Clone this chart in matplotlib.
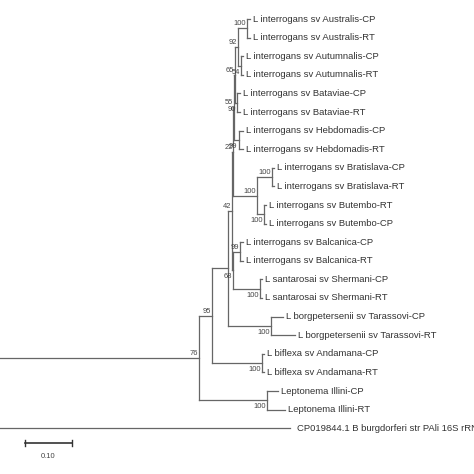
import matplotlib
matplotlib.use("Agg")
import matplotlib.pyplot as plt

# node table: name, parent, branch length, support
names = ["root","N76","Borrelia","N95","Lept","LeptCP","LeptRT","N42","Anda","AndaCP","AndaRT",
         "Tara","TaraCP","TaraRT","Nx","N68","Balc","BalcCP","BalcRT","Sher","SherCP","SherRT",
         "N22","BB","Brat","BratCP","BratRT","Bute","ButeRT","ButeCP","N55","Hebd","HebdCP","HebdRT",
         "N65","Bata","BataCP","BataRT","N92","Aust","AustCP","AustRT","Autu","AutuCP","AutuRT"]
parents = [None,"root","root","N76","N76","Lept","Lept","N95","N95","Anda","Anda",
           "N42","Tara","Tara","N42","Nx","N68","Balc","Balc","N68","Sher","Sher",
           "Nx","N22","BB","Brat","Brat","BB","Bute","Bute","N22","N55","Hebd","Hebd",
           "N55","N65","Bata","Bata","N65","N92","Aust","Aust","N92","Autu","Autu"]
branch_lengths = [0,0.430,0.623,0.028,0.145,0.023,0.038,0.034,0.106,0.004,0.004,
                  0.091,0.026,0.051,0.009,0.002,0.015,0.006,0.006,0.057,0.004,0.004,
                  0.002,0.051,0.032,0.004,0.004,0.015,0.004,0.004,0.002,0.009,0.009,0.009,
                  0.002,0.004,0.006,0.006,0.006,0.019,0.006,0.006,0.006,0.004,0.004]
supports = {"N76":"76","N95":"95","Lept":"100","Anda":"100","Tara":"100","Nx":"42","N68":"68",
            "Balc":"99","Sher":"100","N22":"22","BB":"100","Brat":"100","Bute":"100","N55":"55",
            "Hebd":"99","N65":"65","Bata":"90","N92":"92","Aust":"100","Autu":"54"}
below = {"Lept","Anda","Tara","Sher","Bute","Bata","Autu","Hebd","N68"}
leaf_labels = {
 "AustCP":"L interrogans sv Australis-CP","AustRT":"L interrogans sv Australis-RT",
 "AutuCP":"L interrogans sv Autumnalis-CP","AutuRT":"L interrogans sv Autumnalis-RT",
 "BataCP":"L interrogans sv Bataviae-CP","BataRT":"L interrogans sv Bataviae-RT",
 "HebdCP":"L interrogans sv Hebdomadis-CP","HebdRT":"L interrogans sv Hebdomadis-RT",
 "BratCP":"L interrogans sv Bratislava-CP","BratRT":"L interrogans sv Bratislava-RT",
 "ButeRT":"L interrogans sv Butembo-RT","ButeCP":"L interrogans sv Butembo-CP",
 "BalcCP":"L interrogans sv Balcanica-CP","BalcRT":"L interrogans sv Balcanica-RT",
 "SherCP":"L santarosai sv Shermani-CP","SherRT":"L santarosai sv Shermani-RT",
 "TaraCP":"L borgpetersenii sv Tarassovi-CP","TaraRT":"L borgpetersenii sv Tarassovi-RT",
 "AndaCP":"L biflexa sv Andamana-CP","AndaRT":"L biflexa sv Andamana-RT",
 "LeptCP":"Leptonema Illini-CP","LeptRT":"Leptonema Illini-RT",
 "Borrelia":"CP019844.1 B burgdorferi str PAli 16S rRNA"}
leaf_order = ["AustCP","AustRT","AutuCP","AutuRT","BataCP","BataRT","HebdCP","HebdRT",
              "BratCP","BratRT","ButeRT","ButeCP","BalcCP","BalcRT","SherCP","SherRT",
              "TaraCP","TaraRT","AndaCP","AndaRT","LeptCP","LeptRT","Borrelia"]

SCALE = 470.0   # px per unit
X0 = -3.0
children = {n: [] for n in names}
for n, p in zip(names, parents):
    if p: children[p].append(n)
bl = dict(zip(names, branch_lengths))
X, Y = {}, {}
def setx(n, d):
    X[n] = X0 + d * SCALE
    for c in children[n]:
        setx(c, d + bl[c])
setx("root", 0)
for i, n in enumerate(leaf_order):
    Y[n] = 19 + i * 18.6
def sety(n):
    if n in Y: return Y[n]
    ys = [sety(c) for c in children[n]]
    Y[n] = (ys[0] + ys[-1]) / 2
    return Y[n]
sety("root")

fig = plt.figure(figsize=(4.74, 4.74), dpi=100)
ax = fig.add_axes([0, 0, 1, 1])
ax.set_xlim(0, 474); ax.set_ylim(474, 0); ax.axis("off")
lc = "#666666"
for n, p in zip(names, parents):
    if p:
        ax.plot([X[p], X[n]], [Y[n], Y[n]], color=lc, lw=0.9)
    if children[n]:
        ys = [Y[c] for c in children[n]]
        ax.plot([X[n], X[n]], [min(ys), max(ys)], color=lc, lw=0.9)
for n, t in leaf_labels.items():
    off = 7 if n == "Borrelia" else 3
    ax.text(X[n] + off, Y[n], t, fontsize=6.8, va="center", ha="left", color="#333333",
            family="Liberation Sans")
for n, s in supports.items():
    if n in below:
        ax.text(X[n] - 1, Y[n] + 3, s, fontsize=5.4, ha="right", va="top", color="#444444",
                family="Liberation Sans")
    else:
        ax.text(X[n] - 1, Y[n] - 1, s, fontsize=5.4, ha="right", va="bottom", color="#444444",
                family="Liberation Sans")
# scale bar 0.10
sx0, sx1, sy = 25, 25 + 0.10 * SCALE, 443
ax.plot([sx0, sx1], [sy, sy], color="#333333", lw=1.2)
ax.plot([sx0, sx0], [sy - 3, sy + 3], color="#333333", lw=1.0)
ax.plot([sx1, sx1], [sy - 3, sy + 3], color="#333333", lw=1.0)
ax.text((sx0 + sx1) / 2, sy + 13, "0.10", fontsize=5.5, ha="center", va="center", color="#444444",
        family="Liberation Sans")
fig.savefig("out.png", dpi=100)
